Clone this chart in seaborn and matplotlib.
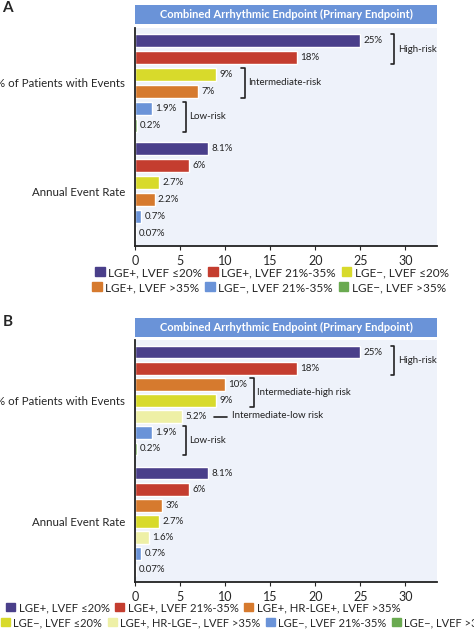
import matplotlib
matplotlib.use("Agg")
import matplotlib.pyplot as plt
import seaborn as sns
import pandas as pd
from matplotlib.patches import Patch

sns.set_style("white")
plt.rcParams['font.family'] = ['Lato', 'DejaVu Sans']

# ---- data ----
groups = ["% of Patients with Events", "Annual Event Rate"]
a_cats = ["LGE+, LVEF ≤20%", "LGE+, LVEF 21%-35%", "LGE−, LVEF ≤20%",
          "LGE+, LVEF >35%", "LGE−, LVEF 21%-35%", "LGE−, LVEF >35%"]
a_pct = [25, 18, 9, 7, 1.9, 0.2]
a_pct_lbl = ["25%", "18%", "9%", "7%", "1.9%", "0.2%"]
a_rate = [8.1, 6, 2.7, 2.2, 0.7, 0.07]
a_rate_lbl = ["8.1%", "6%", "2.7%", "2.2%", "0.7%", "0.07%"]

b_cats = ["LGE+, LVEF ≤20%", "LGE+, LVEF 21%-35%", "LGE+, HR-LGE+, LVEF >35%",
          "LGE−, LVEF ≤20%", "LGE+, HR-LGE−, LVEF >35%", "LGE−, LVEF 21%-35%",
          "LGE−, LVEF >35%"]
b_pct = [25, 18, 10, 9, 5.2, 1.9, 0.2]
b_pct_lbl = ["25%", "18%", "10%", "9%", "5.2%", "1.9%", "0.2%"]
b_rate = [8.1, 6, 3, 2.7, 1.6, 0.7, 0.07]
b_rate_lbl = ["8.1%", "6%", "3%", "2.7%", "1.6%", "0.7%", "0.07%"]

colors = {
    "LGE+, LVEF ≤20%": "#4A3F8A",
    "LGE+, LVEF 21%-35%": "#C43D2F",
    "LGE−, LVEF ≤20%": "#D8DA2B",
    "LGE+, LVEF >35%": "#D67A2E",
    "LGE+, HR-LGE+, LVEF >35%": "#D67A2E",
    "LGE+, HR-LGE−, LVEF >35%": "#EEF0A6",
    "LGE−, LVEF 21%-35%": "#6A93D8",
    "LGE−, LVEF >35%": "#6AAA50",
}

W, H = 474, 631
fig = plt.figure(figsize=(W/100, H/100), dpi=100)

def fx(px): return px / W
def fy(py): return 1 - py / H

def panel(top, bottom, header_top, header_bot, cats, pct, pct_lbl, rate, rate_lbl, gap):
    n = len(cats)
    ax = fig.add_axes([fx(135), fy(bottom), fx(437) - fx(135), fy(top) - fy(bottom)])
    ypos = list(range(n)) + [n - 1 + gap + i for i in range(n)]
    df = pd.DataFrame({"y": ypos, "x": pct + rate, "cat": cats + cats})
    sns.barplot(data=df, x="x", y="y", hue="cat", orient="h", native_scale=True,
                palette=colors, dodge=False, legend=False, width=0.78, ax=ax,
                saturation=1)
    ax.set_facecolor("#EEF2FA")
    ax.set_xlim(0, 33.5)
    ax.set_ylim(ypos[-1] + 0.75, -0.75)
    ax.set_xticks([0, 5, 10, 15, 20, 25, 30])
    ax.tick_params(axis="x", labelsize=9, length=3, direction="out", bottom=True)
    ax.set_yticks([(n - 1) / 2, (n - 1) / 2 + n - 1 + gap])
    ax.set_yticklabels(groups, fontsize=8.3)
    ax.tick_params(axis="y", length=0, pad=7)
    ax.set_xlabel(""); ax.set_ylabel("")
    for s in ["top", "right"]:
        ax.spines[s].set_visible(False)
    for s in ["left", "bottom"]:
        ax.spines[s].set_color("#222"); ax.spines[s].set_linewidth(1.3)
    for y, v, l in zip(ypos, pct + rate, pct_lbl + rate_lbl):
        ax.text(max(v, 0) + 0.35, y, l, va="center", ha="left", fontsize=7, color="#222")
    hax = fig.add_axes([fx(135), fy(header_bot), fx(437) - fx(135), fy(header_top) - fy(header_bot)])
    hax.set_facecolor("#6A93D8")
    hax.set_xticks([]); hax.set_yticks([])
    for s in hax.spines.values(): s.set_visible(False)
    hax.text(0.5, 0.5, "Combined Arrhythmic Endpoint (Primary Endpoint)", color="white",
             ha="center", va="center", fontsize=8, fontweight="bold", transform=hax.transAxes)
    return ax

def bracket(ax, x, y0, y1, text, w=0.35):
    ax.plot([x, x + w, x + w, x], [y0, y0, y1, y1], color="#222", lw=1.2, clip_on=False)
    ax.text(x + w + 0.4, (y0 + y1) / 2, text, va="center", ha="left", fontsize=7, color="#222")

axA = panel(28, 246, 5, 24, a_cats, a_pct, a_pct_lbl, a_rate, a_rate_lbl, 1.4)
bracket(axA, 28.4, -0.4, 1.4, "High-risk")
bracket(axA, 11.8, 1.6, 3.4, "Intermediate-risk")
bracket(axA, 5.3, 3.6, 5.4, "Low-risk")

axB = panel(340, 582, 318, 337, b_cats, b_pct, b_pct_lbl, b_rate, b_rate_lbl, 1.5)
bracket(axB, 28.4, -0.4, 1.4, "High-risk")
bracket(axB, 12.8, 1.6, 3.4, "Intermediate-high risk")
axB.plot([8.8, 10.2], [4, 4], color="#222", lw=1.2)
axB.text(10.8, 3.9, "Intermediate-low risk", va="center", ha="left", fontsize=7, color="#222")
bracket(axB, 5.3, 4.6, 6.4, "Low-risk")

fig.text(0.005, fy(8), "A", fontsize=11, fontweight="bold", va="center")
fig.text(0.005, fy(322), "B", fontsize=11, fontweight="bold", va="center")

def leg(labels, x, y, loc, ncol, fs=8.5):
    h = [Patch(color=colors[c], label=c) for c in labels]
    fig.legend(handles=h, loc=loc, bbox_to_anchor=(x, y), ncol=ncol, frameon=False,
               fontsize=fs, handlelength=0.8, handleheight=0.8, handletextpad=0.3,
               columnspacing=0.5, borderaxespad=0, borderpad=0, labelspacing=0.3)

legA = ["LGE+, LVEF ≤20%", "LGE+, LVEF 21%-35%", "LGE−, LVEF ≤20%",
        "LGE+, LVEF >35%", "LGE−, LVEF 21%-35%", "LGE−, LVEF >35%"]
leg(legA[:3], fx(272), fy(267), "upper center", 3)
leg(legA[3:], fx(269), fy(282), "upper center", 3)
leg(b_cats[:3], fx(6), fy(602), "upper left", 3, 8.2)
leg(b_cats[3:], fx(1), fy(617), "upper left", 4, 8.0)

fig.savefig("out.png", dpi=100, facecolor="white")
